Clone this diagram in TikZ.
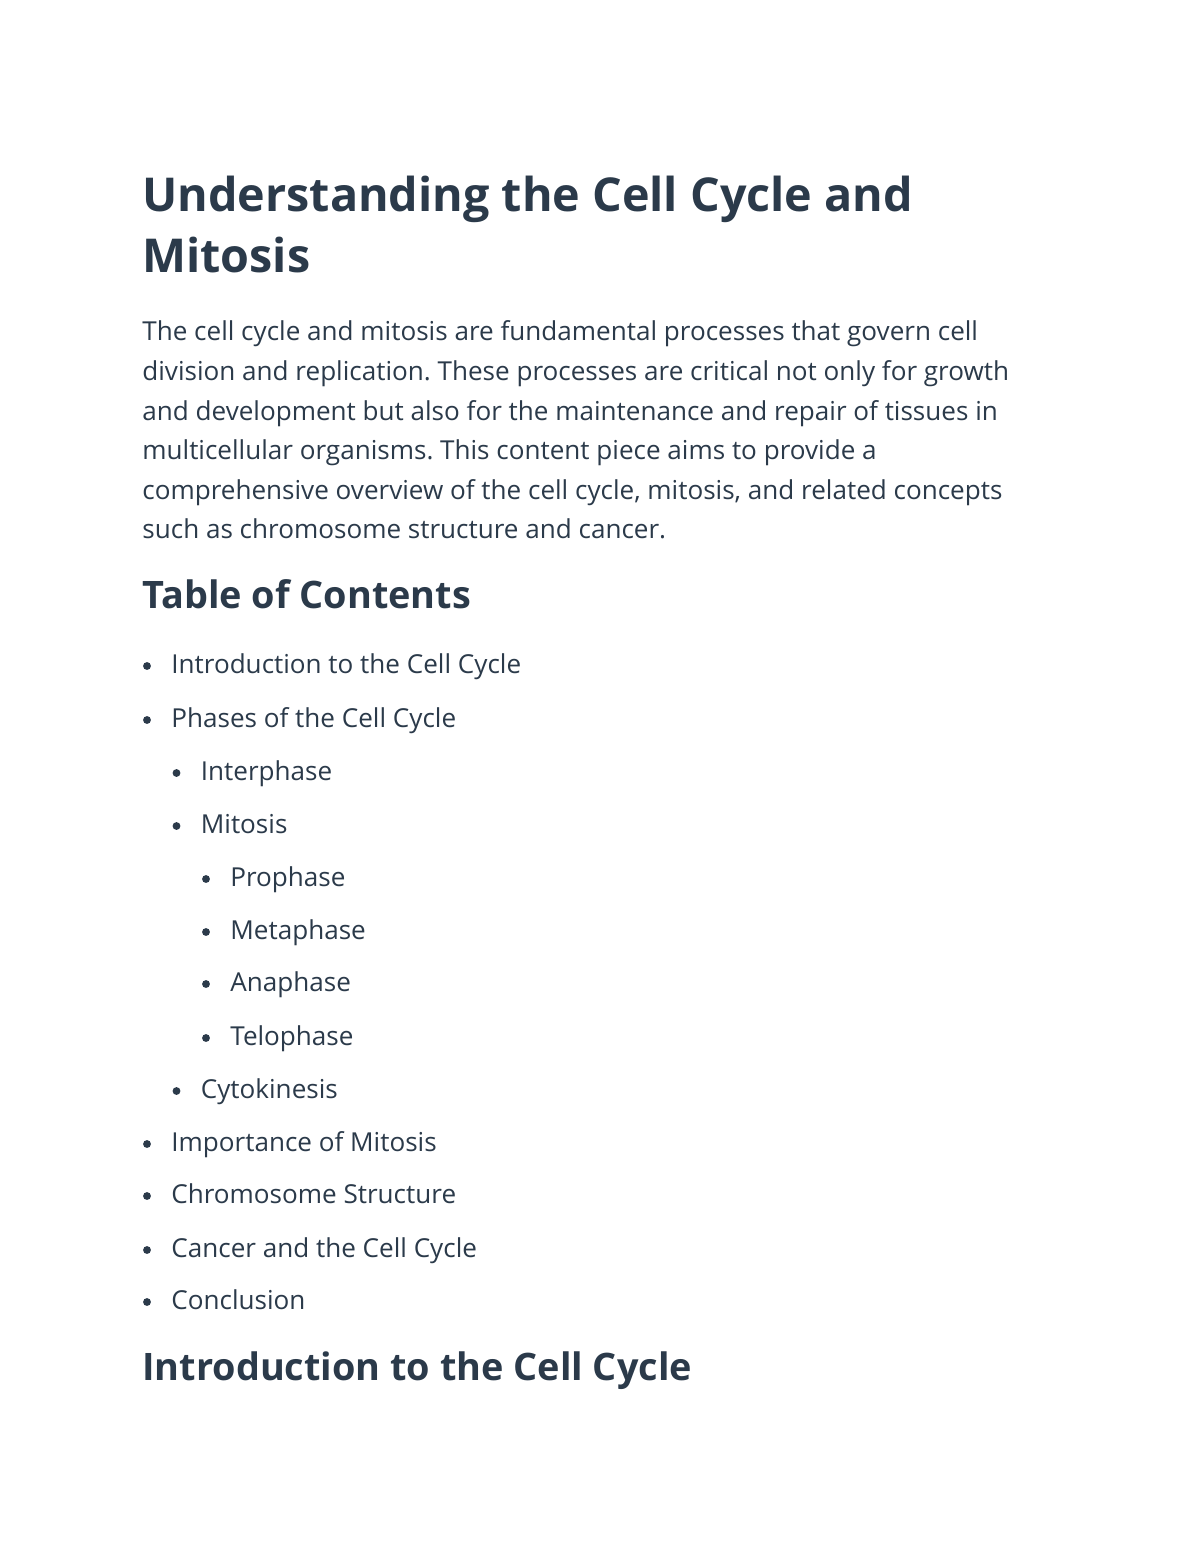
\documentclass[tikz,border=0pt]{standalone}
\usepackage{fontspec}
\setmainfont{Open Sans}
\definecolor{ink}{HTML}{2B3A4A}
\frenchspacing
\begin{document}
\begin{tikzpicture}[x=0.51pt,y=-0.51pt,
  every node/.style={anchor=base west,inner sep=0pt,text=ink},
  ttl/.style={font=\fontsize{23.8}{30}\selectfont\bfseries},
  hd/.style={font=\fontsize{19.3}{22}\selectfont\bfseries},
  bd/.style={font=\fontsize{13.3}{15}\selectfont\frenchspacing},
  dot/.style={circle,fill=ink,inner sep=0pt,minimum size=4pt,anchor=center}]
\fill[white] (0,0) rectangle (1200,1553);
\node[ttl] (t1) at (142,212) {Understanding the Cell Cycle and};
\node[ttl] (t2) at (142,272) {Mitosis};
\foreach \y/\s [count=\i] in {340/{The cell cycle and mitosis are fundamental processes that govern cell},
 380/{division and replication. These processes are critical not only for growth},
 420/{and development but also for the maintenance and repair of tissues in},
 459/{multicellular organisms. This content piece aims to provide a},
 499/{comprehensive overview of the cell cycle, mitosis, and related concepts},
 538/{such as chromosome structure and cancer.}}
  \node[bd] (p\i) at (142,\y) {\s};
\node[hd] (toc) at (142,608) {Table of Contents};
\foreach \y/\l/\s [count=\i] in {673/0/{Introduction to the Cell Cycle},727/0/{Phases of the Cell Cycle},
 780/1/Interphase,833/1/Mitosis,886/2/Prophase,939/2/Metaphase,991/2/Anaphase,1045/2/Telophase,
 1098/1/Cytokinesis,1151/0/{Importance of Mitosis},1203/0/{Chromosome Structure},
 1257/0/{Cancer and the Cell Cycle},1309/0/Conclusion}{
  \node[dot] (b\i) at (147+29.5*\l,\y-7) {};
  \node[bd] (l\i) at (171+29.5*\l,\y) {\s};}
\node[hd] (intro) at (142,1380) {Introduction to the Cell Cycle};
\end{tikzpicture}
\end{document}
